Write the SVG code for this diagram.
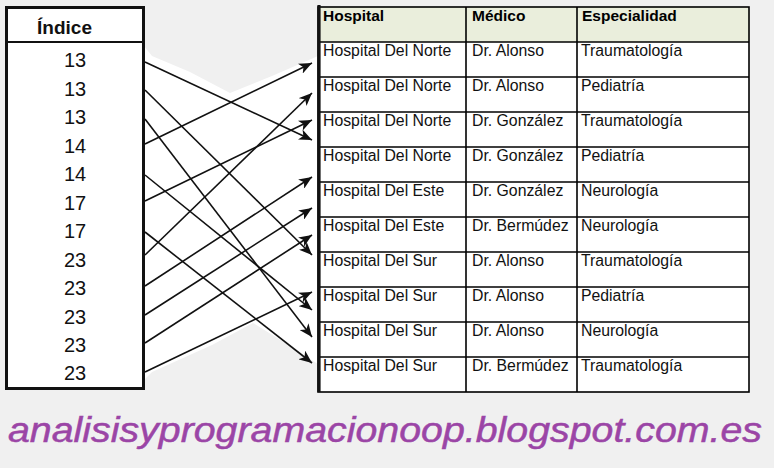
<svg xmlns="http://www.w3.org/2000/svg" width="774" height="468" viewBox="0 0 774 468">
  <defs>
    <marker id="arr" markerUnits="userSpaceOnUse" markerWidth="14" markerHeight="11" refX="13" refY="5.5" orient="auto">
      <path d="M0,0 L13,5.5 L0,11 L3.5,5.5 Z" fill="#111"/>
    </marker>
    <style>
      .num { font-family: "Liberation Sans", Arial, sans-serif; font-size: 20px; fill: #111; text-anchor: middle; }
      .hd { font-family: "Liberation Sans", Arial, sans-serif; font-size: 15.5px; font-weight: bold; fill: #000; }
      .cell { font-family: "Liberation Sans", Arial, sans-serif; font-size: 15.8px; fill: #111; }
      .grid { stroke: #000; stroke-width: 1.6; fill: none; }
      .conn line { stroke: #111; stroke-width: 1.6; marker-end: url(#arr); }
    </style>
  </defs>

  <rect x="0" y="0" width="774" height="468" fill="#f0f0f0"/>
  <!-- white area behind connectors -->
  <polygon points="144,46 152,56 190,72 230,93 272,76 318,56 318,364 290,346 253,323 212,345 152,372 144,380" fill="#ffffff"/>

  <g id="indice">
    <rect x="6.5" y="7.5" width="137" height="381" fill="#ffffff" stroke="#111" stroke-width="3"/>
    <line x1="6.5" y1="42" x2="143.5" y2="42" stroke="#111" stroke-width="2"/>
    <text x="37" y="34" font-family="Liberation Sans, Arial, sans-serif" font-size="19" font-weight="bold" fill="#111" textLength="55">Índice</text>
    <text class="num" x="75" y="67">13</text>
    <text class="num" x="75" y="95.5">13</text>
    <text class="num" x="75" y="124">13</text>
    <text class="num" x="75" y="152.5">14</text>
    <text class="num" x="75" y="181">14</text>
    <text class="num" x="75" y="209.5">17</text>
    <text class="num" x="75" y="238">17</text>
    <text class="num" x="75" y="266.5">23</text>
    <text class="num" x="75" y="295">23</text>
    <text class="num" x="75" y="323.5">23</text>
    <text class="num" x="75" y="352">23</text>
    <text class="num" x="75" y="380">23</text>
  </g>

  <g id="tabla">
    <rect x="318" y="7" width="431" height="385" fill="#ffffff"/>
    <rect x="318" y="7" width="431" height="35" fill="#eaeedc"/>
    <rect x="318" y="7" width="431" height="385" class="grid"/>
    <line class="grid" x1="318" y1="42" x2="749" y2="42"/>
    <line class="grid" x1="318" y1="77" x2="749" y2="77"/>
    <line class="grid" x1="318" y1="112" x2="749" y2="112"/>
    <line class="grid" x1="318" y1="147" x2="749" y2="147"/>
    <line class="grid" x1="318" y1="182" x2="749" y2="182"/>
    <line class="grid" x1="318" y1="217" x2="749" y2="217"/>
    <line class="grid" x1="318" y1="252" x2="749" y2="252"/>
    <line class="grid" x1="318" y1="287" x2="749" y2="287"/>
    <line class="grid" x1="318" y1="322" x2="749" y2="322"/>
    <line class="grid" x1="318" y1="357" x2="749" y2="357"/>
    <line class="grid" x1="466" y1="7" x2="466" y2="392"/>
    <line class="grid" x1="577" y1="7" x2="577" y2="392"/>
    <line x1="319" y1="5" x2="319" y2="392" stroke="#111" stroke-width="3.2"/>

    <text class="hd" x="323" y="21">Hospital</text>
    <text class="hd" x="472" y="21">Médico</text>
    <text class="hd" x="582" y="21">Especialidad</text>

    <text class="cell" x="323" y="56">Hospital Del Norte</text>
    <text class="cell" x="472" y="56">Dr. Alonso</text>
    <text class="cell" x="581" y="56">Traumatología</text>

    <text class="cell" x="323" y="91">Hospital Del Norte</text>
    <text class="cell" x="472" y="91">Dr. Alonso</text>
    <text class="cell" x="581" y="91">Pediatría</text>

    <text class="cell" x="323" y="126">Hospital Del Norte</text>
    <text class="cell" x="472" y="126">Dr. González</text>
    <text class="cell" x="581" y="126">Traumatología</text>

    <text class="cell" x="323" y="161">Hospital Del Norte</text>
    <text class="cell" x="472" y="161">Dr. González</text>
    <text class="cell" x="581" y="161">Pediatría</text>

    <text class="cell" x="323" y="196">Hospital Del Este</text>
    <text class="cell" x="472" y="196">Dr. González</text>
    <text class="cell" x="581" y="196">Neurología</text>

    <text class="cell" x="323" y="231">Hospital Del Este</text>
    <text class="cell" x="472" y="231">Dr. Bermúdez</text>
    <text class="cell" x="581" y="231">Neurología</text>

    <text class="cell" x="323" y="266">Hospital Del Sur</text>
    <text class="cell" x="472" y="266">Dr. Alonso</text>
    <text class="cell" x="581" y="266">Traumatología</text>

    <text class="cell" x="323" y="301">Hospital Del Sur</text>
    <text class="cell" x="472" y="301">Dr. Alonso</text>
    <text class="cell" x="581" y="301">Pediatría</text>

    <text class="cell" x="323" y="336">Hospital Del Sur</text>
    <text class="cell" x="472" y="336">Dr. Alonso</text>
    <text class="cell" x="581" y="336">Neurología</text>

    <text class="cell" x="323" y="371">Hospital Del Sur</text>
    <text class="cell" x="472" y="371">Dr. Bermúdez</text>
    <text class="cell" x="581" y="371">Traumatología</text>
  </g>

  <g id="conectores" class="conn">
    <line x1="145" y1="62" x2="312" y2="140"/>
    <line x1="145" y1="90" x2="312" y2="255"/>
    <line x1="145" y1="119" x2="312" y2="337"/>
    <line x1="145" y1="144" x2="312" y2="63"/>
    <line x1="145" y1="175" x2="312" y2="310"/>
    <line x1="145" y1="201" x2="312" y2="120"/>
    <line x1="145" y1="232" x2="312" y2="363"/>
    <line x1="145" y1="255" x2="312" y2="93"/>
    <line x1="145" y1="286" x2="312" y2="177"/>
    <line x1="145" y1="315" x2="312" y2="208"/>
    <line x1="145" y1="343" x2="312" y2="235"/>
    <line x1="145" y1="372" x2="312" y2="292"/>
  </g>

  <text x="8" y="442" font-family="Liberation Sans, Arial, sans-serif" font-size="35.5" font-style="italic" fill="#9b45a6" stroke="#9b45a6" stroke-width="0.5" textLength="754" lengthAdjust="spacingAndGlyphs">analisisyprogramacionoop.blogspot.com.es</text>
</svg>
